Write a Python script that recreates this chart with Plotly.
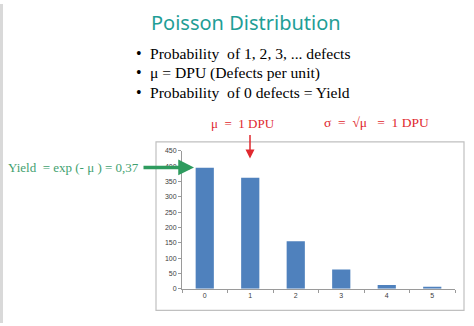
import plotly.graph_objects as go

W, H = 474, 326

defects = ["0", "1", "2", "3", "4", "5"]
counts = [395, 362, 155, 63, 12, 6]
y_ticks = [0, 50, 100, 150, 200, 250, 300, 350, 400, 450]

title = "Poisson Distribution"
bullets = ["Probability  of 1, 2, 3, ... defects",
           "μ = DPU (Defects per unit)",
           "Probability  of 0 defects = Yield"]
mu_label = "μ  =  1 DPU"
sigma_label = "σ  =  √μ   =  1 DPU"
yield_label = "Yield  = exp (- μ ) = 0,37"


def px(x):
    return x / W


def py(y):
    return 1 - y / H


fig = go.Figure()
fig.add_trace(go.Bar(x=defects, y=counts, marker=dict(color="#4f81bd", line=dict(width=0)),
                     showlegend=False))

fig.update_layout(
    width=W, height=H,
    margin=dict(l=0, r=0, t=0, b=0),
    paper_bgcolor="white", plot_bgcolor="white",
    bargap=0.6,
    xaxis=dict(domain=[px(182), px(455)], type="category", showgrid=False,
               showline=True, linecolor="#9a9a9a", linewidth=1,
               ticks="outside", tickson="boundaries", ticklen=3, tickcolor="#9a9a9a",
               tickfont=dict(family="Liberation Sans", size=7, color="#404040")),
    yaxis=dict(domain=[py(291), py(150)], range=[0, 450], tickvals=y_ticks,
               showgrid=False, showline=True, linecolor="#9a9a9a", linewidth=1,
               ticks="outside", ticklen=3, tickcolor="#9a9a9a",
               tickfont=dict(family="Liberation Sans", size=7, color="#404040")),
    shapes=[
        dict(type="rect", xref="paper", yref="paper", x0=px(156), x1=px(464), y0=py(313), y1=py(141),
             line=dict(color="#c0c0c0", width=1.2), fillcolor="rgba(0,0,0,0)", layer="below"),
        dict(type="rect", xref="paper", yref="paper", x0=0, x1=px(3), y0=0, y1=1,
             line=dict(width=0), fillcolor="#d9d9d9"),
    ],
)

ann = []
ann.append(dict(x=px(246), y=py(19), xref="paper", yref="paper", text=title, showarrow=False,
                font=dict(family="Noto Sans", size=20, color="#1f9e96"), xanchor="center", yanchor="middle"))
for i, b in enumerate(bullets):
    yy = 51 + i * 19.5
    ann.append(dict(x=px(134), y=py(yy), xref="paper", yref="paper", text="•", showarrow=False,
                    font=dict(family="Liberation Serif", size=16, color="black"), xanchor="left", yanchor="middle"))
    ann.append(dict(x=px(148), y=py(yy), xref="paper", yref="paper", text=b, showarrow=False,
                    font=dict(family="Liberation Serif", size=15.6, color="black"), xanchor="left", yanchor="middle"))
ann.append(dict(x=px(209), y=py(122), xref="paper", yref="paper", text=mu_label, showarrow=False,
                font=dict(family="Liberation Serif", size=13, color="#e0282e"), xanchor="left", yanchor="middle"))
ann.append(dict(x=px(322), y=py(121), xref="paper", yref="paper", text=sigma_label, showarrow=False,
                font=dict(family="Liberation Serif", size=13.5, color="#e0282e"), xanchor="left", yanchor="middle"))
ann.append(dict(x=px(6), y=py(167), xref="paper", yref="paper", text=yield_label, showarrow=False,
                font=dict(family="Liberation Serif", size=13, color="#3f9f6f"), xanchor="left", yanchor="middle"))
# red arrow
ann.append(dict(x=px(250), y=py(158), xref="paper", yref="paper", text="", showarrow=True,
                ax=0, ay=-25, arrowhead=2, arrowsize=1.2, arrowwidth=1.5, arrowcolor="#e0282e"))
# green arrow
ann.append(dict(x=px(194), y=py(167), xref="paper", yref="paper", text="", showarrow=True,
                ax=-52, ay=0, arrowhead=2, arrowsize=0.9, arrowwidth=3.5, arrowcolor="#2e9b5e"))
fig.update_layout(annotations=ann)

fig.write_html("out.html")
